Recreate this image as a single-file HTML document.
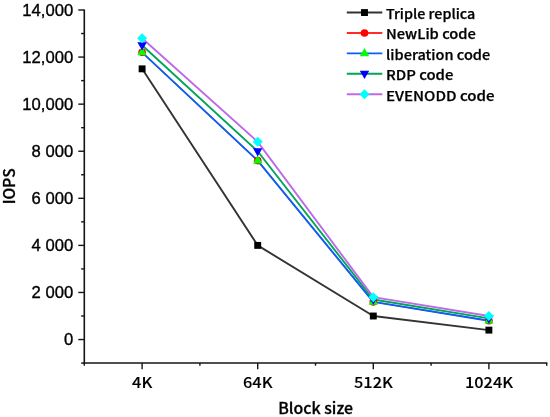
<!DOCTYPE html>
<html><head><meta charset="utf-8"><title>IOPS vs Block size</title>
<style>
html,body{margin:0;padding:0;background:#fff;}
body{width:550px;height:417px;overflow:hidden;}
svg{display:block;}
text{fill:#000;}
.yt{font-family:"Liberation Sans",sans-serif;font-size:16.4px;text-anchor:end;stroke:#000;stroke-width:0.35px;}
.xt{font-family:"Noto Sans CJK SC","Liberation Sans",sans-serif;font-weight:500;font-size:15.1px;text-anchor:middle;stroke:#000;stroke-width:0.1px;}
.lg{font-family:"Noto Sans CJK SC","Liberation Sans",sans-serif;font-weight:500;font-size:13.4px;stroke:#000;stroke-width:0.25px;}
.ti{font-family:"Noto Sans CJK SC","Liberation Sans",sans-serif;font-weight:500;font-size:15.2px;text-anchor:middle;stroke:#000;stroke-width:0.3px;}
.tv{font-family:"Noto Sans CJK SC","Liberation Sans",sans-serif;font-weight:500;font-size:15.55px;text-anchor:middle;stroke:#000;stroke-width:0.3px;}
</style></head><body>
<svg width="550" height="417" viewBox="0 0 550 417">
<rect width="550" height="417" fill="#fff"/>

<g stroke="#141414" stroke-width="1.6" fill="none">
<path d="M84.3,9.39 V363.64"/>
<path d="M83.60,362.94 H547.30"/>
</g>
<g stroke="#141414" stroke-width="1.4" fill="none">
<path d="M84.3,339.55 h-6"/>
<path d="M84.3,292.47 h-6"/>
<path d="M84.3,245.39 h-6"/>
<path d="M84.3,198.31 h-6"/>
<path d="M84.3,151.23 h-6"/>
<path d="M84.3,104.15 h-6"/>
<path d="M84.3,57.07 h-6"/>
<path d="M84.3,9.99 h-6"/>
<path d="M84.3,363.09 h-3.2"/>
<path d="M84.3,316.01 h-3.2"/>
<path d="M84.3,268.93 h-3.2"/>
<path d="M84.3,221.85 h-3.2"/>
<path d="M84.3,174.77 h-3.2"/>
<path d="M84.3,127.69 h-3.2"/>
<path d="M84.3,80.61 h-3.2"/>
<path d="M84.3,33.53 h-3.2"/>
<path d="M142.10,362.94 v6.3"/>
<path d="M257.70,362.94 v6.3"/>
<path d="M373.30,362.94 v6.3"/>
<path d="M488.90,362.94 v6.3"/>
<path d="M84.30,362.94 v2.8"/>
<path d="M199.90,362.94 v2.8"/>
<path d="M315.50,362.94 v2.8"/>
<path d="M431.10,362.94 v2.8"/>
<path d="M546.70,362.94 v2.8"/>
</g>
<text class="yt" transform="translate(73.2,345.15) scale(1.015,1)" xml:space="preserve">0</text>
<text class="yt" transform="translate(73.2,298.07) scale(1.015,1)" xml:space="preserve">2 000</text>
<text class="yt" transform="translate(73.2,250.99) scale(1.015,1)" xml:space="preserve">4 000</text>
<text class="yt" transform="translate(73.2,203.91) scale(1.015,1)" xml:space="preserve">6 000</text>
<text class="yt" transform="translate(73.2,156.83) scale(1.015,1)" xml:space="preserve">8 000</text>
<text class="yt" transform="translate(73.2,109.75) scale(1.015,1)" xml:space="preserve">10,000</text>
<text class="yt" transform="translate(73.2,62.67) scale(1.015,1)" xml:space="preserve">12,000</text>
<text class="yt" transform="translate(73.2,15.59) scale(1.015,1)" xml:space="preserve">14,000</text>
<text class="xt" transform="translate(142.20,387.55) scale(1.085,1)">4K</text>
<text class="xt" transform="translate(257.80,387.55) scale(1.085,1)">64K</text>
<text class="xt" transform="translate(373.40,387.55) scale(1.085,1)">512K</text>
<text class="xt" transform="translate(489.00,387.55) scale(1.085,1)">1024K</text>
<text class="ti" transform="translate(315.6,413.5) scale(1.045,1)">Block size</text>
<text class="tv" transform="translate(15.1,186.3) rotate(-90) scale(1,0.975)">IOPS</text>
<polyline points="142.10,68.84 257.70,245.39 373.30,316.01 488.90,330.13" fill="none" stroke="#333333" stroke-width="1.9" stroke-linejoin="round"/>
<polyline points="142.10,52.36 257.70,160.65 373.30,301.89 488.90,320.72" fill="none" stroke="#ff2a2a" stroke-width="1.3" stroke-linejoin="round"/>
<polyline points="142.10,52.36 257.70,160.65 373.30,301.89 488.90,320.72" fill="none" stroke="#0860f5" stroke-width="1.9" stroke-linejoin="round"/>
<polyline points="142.10,45.30 257.70,151.23 373.30,299.53 488.90,318.36" fill="none" stroke="#00a556" stroke-width="1.9" stroke-linejoin="round"/>
<polyline points="142.10,38.24 257.70,141.81 373.30,297.18 488.90,316.01" fill="none" stroke="#be6ae8" stroke-width="1.9" stroke-linejoin="round"/>
<rect x="138.65" y="65.39" width="6.90" height="6.90" fill="#000000"/>
<rect x="254.25" y="241.94" width="6.90" height="6.90" fill="#000000"/>
<rect x="369.85" y="312.56" width="6.90" height="6.90" fill="#000000"/>
<rect x="485.45" y="326.68" width="6.90" height="6.90" fill="#000000"/>
<ellipse cx="142.10" cy="52.36" rx="3.85" ry="3.8" fill="#ff0000"/>
<ellipse cx="257.70" cy="160.65" rx="3.85" ry="3.8" fill="#ff0000"/>
<ellipse cx="373.30" cy="301.89" rx="3.85" ry="3.8" fill="#ff0000"/>
<ellipse cx="488.90" cy="320.72" rx="3.85" ry="3.8" fill="#ff0000"/>
<polygon points="142.10,46.96 146.80,55.16 137.40,55.16" fill="#00ff00"/>
<polygon points="257.70,155.25 262.40,163.45 253.00,163.45" fill="#00ff00"/>
<polygon points="373.30,296.49 378.00,304.69 368.60,304.69" fill="#00ff00"/>
<polygon points="488.90,315.32 493.60,323.52 484.20,323.52" fill="#00ff00"/>
<polygon points="142.10,50.60 146.80,42.30 137.40,42.30" fill="#0000ff"/>
<polygon points="257.70,156.53 262.40,148.23 253.00,148.23" fill="#0000ff"/>
<polygon points="373.30,304.83 378.00,296.53 368.60,296.53" fill="#0000ff"/>
<polygon points="488.90,323.66 493.60,315.36 484.20,315.36" fill="#0000ff"/>
<polygon points="142.10,33.19 147.15,38.24 142.10,43.29 137.05,38.24" fill="#00ffff"/>
<polygon points="257.70,136.76 262.75,141.81 257.70,146.86 252.65,141.81" fill="#00ffff"/>
<polygon points="373.30,292.13 378.35,297.18 373.30,302.23 368.25,297.18" fill="#00ffff"/>
<polygon points="488.90,310.96 493.95,316.01 488.90,321.06 483.85,316.01" fill="#00ffff"/>
<path d="M346.8,12.55 H382.3" stroke="#333333" stroke-width="1.9"/>
<rect x="361.05" y="9.10" width="6.90" height="6.90" fill="#000000"/>
<text class="lg" x="386.0" y="18.65" textLength="89.3" lengthAdjust="spacingAndGlyphs">Triple replica</text>
<path d="M346.8,32.97 H382.3" stroke="#ff2a2a" stroke-width="1.9"/>
<ellipse cx="364.50" cy="32.97" rx="3.85" ry="3.8" fill="#ff0000"/>
<text class="lg" x="386.0" y="39.18" textLength="89.9" lengthAdjust="spacingAndGlyphs">NewLib code</text>
<path d="M346.8,53.39 H382.3" stroke="#0860f5" stroke-width="1.9"/>
<polygon points="364.50,47.99 369.20,56.19 359.80,56.19" fill="#00ff00"/>
<text class="lg" x="386.0" y="59.71" textLength="104.2" lengthAdjust="spacingAndGlyphs">liberation code</text>
<path d="M346.8,73.81 H382.3" stroke="#00a556" stroke-width="1.9"/>
<polygon points="364.50,79.11 369.20,70.81 359.80,70.81" fill="#0000ff"/>
<text class="lg" x="386.0" y="80.24" textLength="67.4" lengthAdjust="spacingAndGlyphs">RDP code</text>
<path d="M346.8,94.23 H382.3" stroke="#be6ae8" stroke-width="1.9"/>
<polygon points="364.50,89.18 369.55,94.23 364.50,99.28 359.45,94.23" fill="#00ffff"/>
<text class="lg" x="386.0" y="100.77" textLength="108.6" lengthAdjust="spacingAndGlyphs">EVENODD code</text>
</svg></body></html>
